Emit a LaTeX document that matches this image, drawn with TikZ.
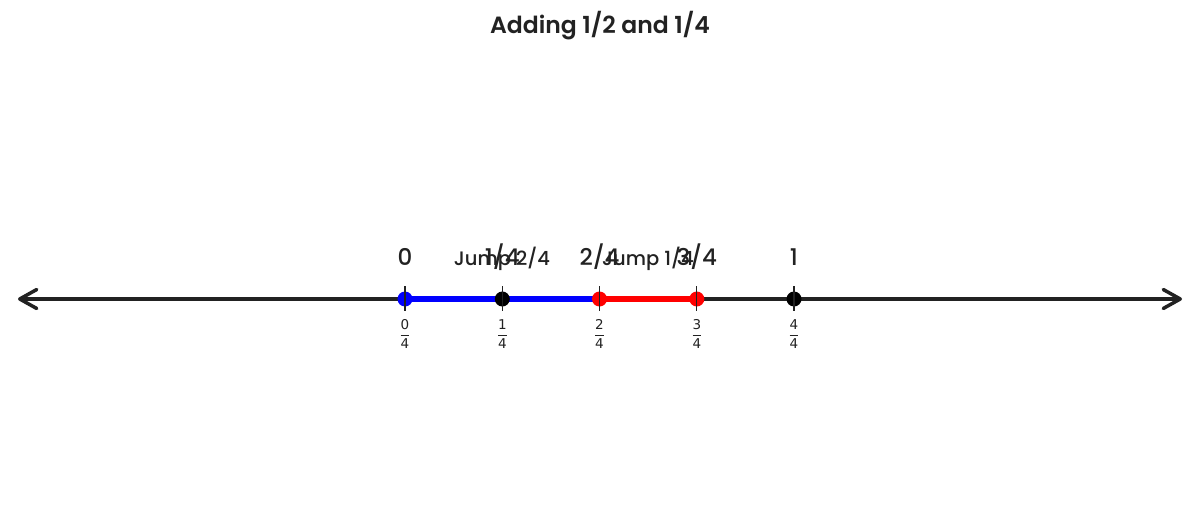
\documentclass[tikz,border=0pt]{standalone}
\usepackage{amsmath}
\usepackage{fontspec}
\setmainfont{Poppins}
\newfontfamily\popmed{Poppins Medium}
\newfontfamily\popsemi{Poppins SemiBold}
\newfontfamily\dejavu{DejaVu Sans}
\usetikzlibrary{arrows.meta}
\definecolor{axisgray}{HTML}{222222}
\newcommand{\myfrac}[2]{$\genfrac{}{}{0.6pt}{0}{\hbox{#1}}{\hbox{#2}}$}
\begin{document}
\begin{tikzpicture}[x=1pt,y=-1pt,
  axis/.style={line width=3.5pt,draw=axisgray,line cap=round,
    {Straight Barb[length=17pt,width=19pt,line cap=round,line join=round]}-{Straight Barb[length=17pt,width=19pt,line cap=round,line join=round]}},
  tickmark/.style={line width=1.2pt,draw=axisgray},
  seg/.style={line width=6pt},
  dot/.style={circle,inner sep=0pt,minimum size=15pt},
  ticklabel/.style={font=\popmed\fontsize{23}{23}\selectfont,text=axisgray,inner sep=0pt},
  jumplabel/.style={font=\popmed\fontsize{19.5}{19.5}\selectfont,text=axisgray,inner sep=0pt},
  fraclabel/.style={font=\dejavu\fontsize{13.5}{13.5}\selectfont,text=axisgray,inner sep=0pt},
  titlelabel/.style={font=\popsemi\fontsize{23.5}{23.5}\selectfont,text=axisgray,inner sep=0pt}]
\useasboundingbox[fill=white] (0,0) rectangle (1200,530);
\node[titlelabel] (title) at (600,26) {Adding 1/2 and 1/4};
\coordinate (L) at (18,299);
\coordinate (R) at (1182,299);
\draw[axis] (L) -- (R);
\foreach \i/\x in {0/405,1/502.3,2/599.5,3/696.8,4/794}{
  \coordinate (p\i) at (\x,299);
  \coordinate (t\i a) at (\x,286);
  \coordinate (t\i b) at (\x,311);
  \node[fraclabel] (f\i) at (\x,334) {\myfrac{\i}{4}};
}
\draw[seg,blue] (p0) -- (p2);
\draw[seg,red] (p2) -- (p3);
\node[dot,fill=blue] (d0) at (p0) {};
\node[dot,fill=black] (d1) at (p1) {};
\node[dot,fill=red] (d2) at (p2) {};
\node[dot,fill=red] (d3) at (p3) {};
\node[dot,fill=black] (d4) at (p4) {};
\foreach \i in {0,...,4}{\draw[tickmark] (t\i a) -- (t\i b);}
\node[ticklabel] (l0) at (p0 |- 0,257) {0};
\node[ticklabel] (l1) at (p1 |- 0,257) {1/4};
\node[ticklabel] (l2) at (p2 |- 0,257) {2/4};
\node[ticklabel] (l3) at (p3 |- 0,257) {3/4};
\node[ticklabel] (l4) at (p4 |- 0,257) {1};
\node[jumplabel] (j1) at (502,259) {Jump 2/4};
\node[jumplabel] (j2) at (648,259) {Jump 1/4};
\end{tikzpicture}
\end{document}
